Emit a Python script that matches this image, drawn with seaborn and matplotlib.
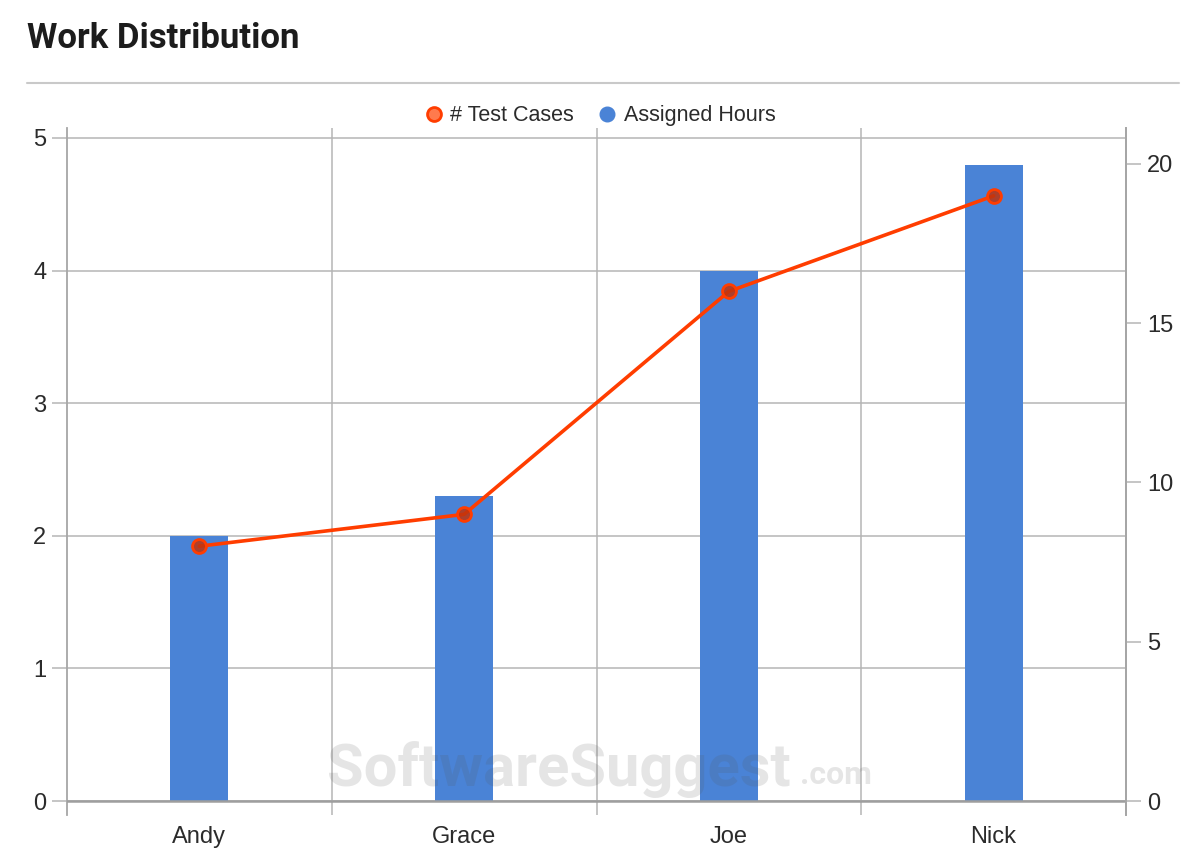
import matplotlib
matplotlib.use("Agg")
import matplotlib.pyplot as plt
from matplotlib.lines import Line2D
import pandas as pd
import seaborn as sns

nombres = ["Andy", "Grace", "Joe", "Nick"]
horas = [2.0, 2.3, 4.0, 4.8]
casos = [8, 9, 16, 19]
ticks_izq = [0, 1, 2, 3, 4, 5]
ticks_der = [0, 5, 10, 15, 20]

ANCHO, ALTO = 1200, 865
COLOR_BARRA = "#4a83d6"
COLOR_LINEA = "#ff3d00"
COLOR_GRILLA = "#b5b5b5"
COLOR_TEXTO = "#2b2b2b"

sns.set_theme(style="white")
plt.rcParams["font.family"] = ["Liberation Sans", "DejaVu Sans"]

datos = pd.DataFrame({"nombre": nombres, "horas": horas, "casos": casos})

fig = plt.figure(figsize=(ANCHO / 100, ALTO / 100), dpi=100)
# ejes en pixeles: x 67-1126, y 128-815
ax = fig.add_axes([67 / ANCHO, 1 - 815 / ALTO, (1126 - 67) / ANCHO, (815 - 128) / ALTO])

sns.barplot(data=datos, x="nombre", y="horas", color=COLOR_BARRA, saturation=1,
            width=0.22, linewidth=0, ax=ax, zorder=3)
ax.set_xlim(-0.5, 3.5)
ax.set_ylim(-14 / 132.6, (801 - 128) / 132.6)
ax.set_xlabel("")
ax.set_ylabel("")
ax.set_yticks(ticks_izq)
ax.set_xticks([0.5, 1.5, 2.5], minor=True)
ax.grid(True, axis="y", color=COLOR_GRILLA, lw=1.1, zorder=1)
ax.grid(True, axis="x", which="minor", color=COLOR_GRILLA, lw=1.1, zorder=1)
ax.axhline(0, color="#9e9e9e", lw=1.8, zorder=4)
ax.tick_params(axis="y", left=True, length=11, width=1.1, color=COLOR_GRILLA,
               labelsize=17, labelcolor=COLOR_TEXTO, pad=4)
ax.tick_params(axis="x", which="major", bottom=False, labelsize=17,
               labelcolor=COLOR_TEXTO, pad=2)
ax.tick_params(axis="x", which="minor", bottom=False)
for lado in ["top", "bottom"]:
    ax.spines[lado].set_visible(False)
for lado in ["left", "right"]:
    ax.spines[lado].set_color("#a6a6a6")
    ax.spines[lado].set_linewidth(1.3)

ax2 = ax.twinx()
sns.lineplot(data=datos, x="nombre", y="casos", color=COLOR_LINEA, lw=2.6, ax=ax2,
             marker="o", markersize=10, markerfacecolor=(0.75, 0.2, 0.05, 0.85),
             markeredgecolor=COLOR_LINEA, markeredgewidth=2, zorder=5)
ax2.set_ylim(-14 / 31.85, (801 - 128) / 31.85)
ax2.set_ylabel("")
ax2.set_yticks(ticks_der)
ax2.tick_params(axis="y", right=True, length=11, width=1.1, color=COLOR_GRILLA,
                labelsize=17, labelcolor=COLOR_TEXTO, pad=4)
for lado in ["top", "bottom"]:
    ax2.spines[lado].set_visible(False)
ax2.spines["left"].set_visible(False)
ax2.spines["right"].set_color("#a6a6a6")
ax2.spines["right"].set_linewidth(1.3)

# titulo y raya
fig.text(27 / ANCHO, 1 - 39 / ALTO, "Work Distribution", family="Roboto", weight="bold",
         fontsize=25, color="#1c1c1c", va="center", ha="left")
fig.add_artist(Line2D([27 / ANCHO, 1179 / ANCHO], [1 - 83 / ALTO, 1 - 83 / ALTO],
                      color="#c9c9c9", lw=1.5))

# leyenda
manijas = [
    Line2D([], [], ls="", marker="o", markersize=10, markerfacecolor="#ff7a4d",
           markeredgecolor=COLOR_LINEA, markeredgewidth=2, label="# Test Cases"),
    Line2D([], [], ls="", marker="o", markersize=10.5, markerfacecolor=COLOR_BARRA,
           markeredgecolor=COLOR_BARRA, label="Assigned Hours"),
]
fig.legend(handles=manijas, loc="center", bbox_to_anchor=(594 / ANCHO, 1 - 116 / ALTO),
           ncol=2, frameon=False, fontsize=15.5, labelcolor=COLOR_TEXTO,
           handletextpad=-0.25, columnspacing=0.55, borderpad=0)

# marca de agua
fig.text(327 / ANCHO, 1 - 769 / ALTO, "SoftwareSuggest", family="Roboto", weight="bold",
         fontsize=43, color="#555555", alpha=0.15, va="center", ha="left", zorder=10)
fig.text(800 / ANCHO, 1 - 775 / ALTO, ".com", family="Roboto", weight="bold",
         fontsize=23, color="#555555", alpha=0.15, va="center", ha="left", zorder=10)

plt.savefig("out.png", dpi=100)
plt.close()
